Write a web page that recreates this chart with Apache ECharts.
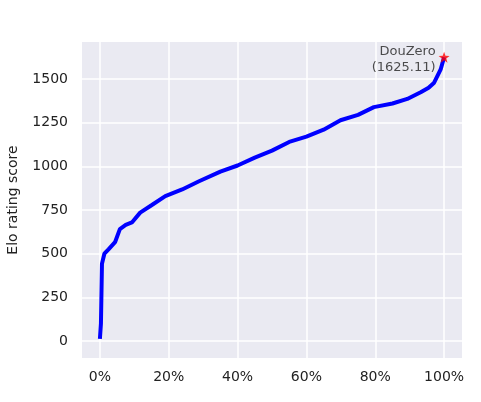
<!DOCTYPE html>
<html><head><meta charset="utf-8">
<script src="https://cdn.jsdelivr.net/npm/echarts@6/dist/echarts.min.js"></script>
<style>html,body{margin:0;padding:0;background:#fff}#container{width:481px;height:402px}</style>
</head><body><div id="container"></div>
<script>
var pct = [0, 0.3, 0.6, 1.3, 2.5, 4.4, 5.8, 7.5, 9.3, 11.7, 15.1, 19, 23.9, 28.8, 35, 40, 45, 50, 55, 60, 65, 69.9, 75, 79.6, 85, 89.3, 93.2, 95.5, 97.1, 99, 100];
var elo = [13, 100, 443, 500, 525, 566, 641, 665, 679, 735, 779, 830, 868, 915, 970, 1005, 1050, 1090, 1140, 1170, 1210, 1264, 1295, 1339, 1360, 1386, 1424, 1450, 1479, 1555, 1625];
var best = [100, 1625.11];
var yTicks = [0, 250, 500, 750, 1000, 1250, 1500];
var xTicks = [0, 20, 40, 60, 80, 100];

var font = 'DejaVu Sans';
var dom = document.getElementById('container');
var myChart = echarts.init(dom);
var line = pct.map(function (p, i) { return [p, elo[i]]; });
var option = {
    animation: false,
    textStyle: { fontFamily: font },
    grid: { left: 82, right: 19, top: 42, bottom: 44, show: true, backgroundColor: '#EAEAF2', borderWidth: 0, containLabel: false, outerBoundsMode: 'none' },
    xAxis: {
        type: 'value', min: -5.2, max: 105.2,
        axisLine: { show: false }, axisTick: { show: false },
        axisLabel: { customValues: xTicks, formatter: '{value}%', fontSize: 14, color: '#222', margin: 12, fontFamily: font },
        splitLine: { show: false }
    },
    yAxis: {
        type: 'value', min: -97, max: 1712,
        name: 'Elo rating score', nameLocation: 'middle', nameGap: 62, nameRotate: 90,
        nameTextStyle: { fontSize: 14, color: '#222', fontFamily: font },
        axisLine: { show: false }, axisTick: { show: false },
        axisLabel: {
            customValues: yTicks, fontSize: 14, color: '#222', margin: 14, fontFamily: font,
            formatter: function (v) { return String(v); }
        },
        splitLine: { show: false }
    },
    series: [
        {
            type: 'line', data: line, symbol: 'none', z: 3,
            lineStyle: { color: '#0000ff', width: 4 },
            markLine: {
                silent: true, symbol: 'none', label: { show: false }, z: 1,
                lineStyle: { color: '#ffffff', width: 1.5, type: 'solid' },
                data: yTicks.map(function (v) { return { yAxis: v }; })
                    .concat(xTicks.map(function (v) { return { xAxis: v }; }))
            }
        },
        {
            type: 'scatter', data: [best], symbol: 'path://M0,-10L2.35,-3.24L9.51,-3.09L3.8,1.24L5.88,8.09L0,4L-5.88,8.09L-3.8,1.24L-9.51,-3.09L-2.35,-3.24Z',
            symbolSize: 11, itemStyle: { color: '#ff0000' }, z: 5,
            label: {
                show: true, position: 'left', distance: 3, offset: [0, 2],
                formatter: 'DouZero\n(1625.11)', fontSize: 13, color: '#222', lineHeight: 16,
                fontFamily: font
            }
        }
    ]
};
myChart.setOption(option);
</script></body></html>
